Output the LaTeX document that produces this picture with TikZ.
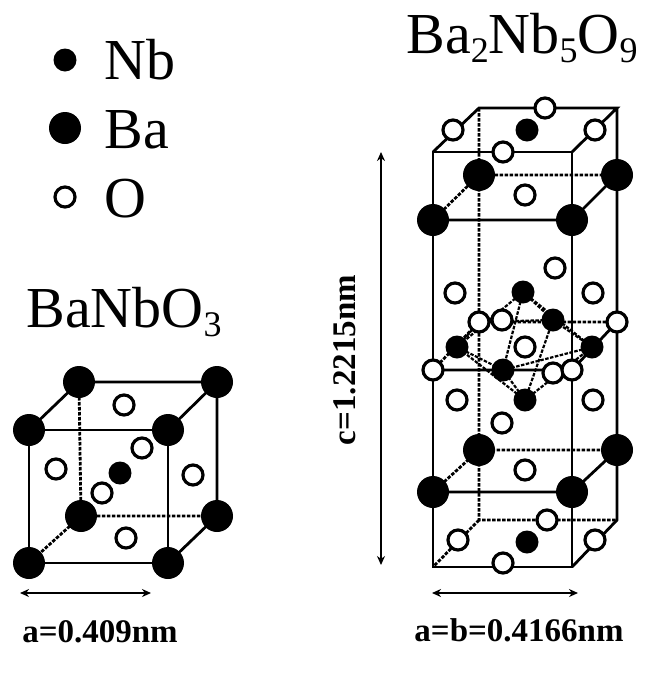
\documentclass[tikz,border=0pt]{standalone}
\usepackage{fontspec}
\usetikzlibrary{arrows.meta}
\setmainfont{Liberation Serif}
\newcommand{\sbs}[1]{\raisebox{-9pt}{\fontsize{36}{36}\selectfont #1}}
\begin{document}
\begin{tikzpicture}[x=1pt,y=-1pt,line width=2.8pt,
 ba/.style={circle,fill=black,inner sep=0pt,minimum size=32pt},
 nb/.style={circle,fill=black,inner sep=0pt,minimum size=23pt},
 ox/.style={circle,draw=black,fill=white,line width=3.2pt,inner sep=0pt,minimum size=20pt},
 dsh/.style={dash pattern=on 3.5pt off 1.5pt},
 big/.style={font=\fontsize{58}{58}\selectfont,inner sep=0pt},
 lab/.style={font=\fontsize{33}{33}\selectfont\bfseries,inner sep=0pt},
 dim/.style={<->,>={Stealth[length=9pt,width=8pt]},line width=2pt}]
\useasboundingbox (0,0) rectangle (658,681);
% legend
\node[nb] (lnb) at (65,60) {};
\node[ba] (lba) at (65,128) {};
\node[ox] (lo) at (65,197) {};
\node[big,anchor=west] (tnb) at (103,60) {Nb};
\node[big,anchor=west] (tba) at (103,130) {Ba};
\node[big,anchor=west] (to) at (103,199) {O};
\node[big,anchor=west] (t1) at (25,312) {BaNbO\sbs{3}};
\node[big,anchor=west] (t2) at (405,38) {Ba\sbs{2}Nb\sbs{5}O\sbs{9}};
% left cube
\coordinate (fa) at (29,430); \coordinate (fb) at (168,430);
\coordinate (fc) at (168,563); \coordinate (fd) at (29,563);
\coordinate (ba1) at (79,382); \coordinate (bb) at (217,382);
\coordinate (bc) at (217,516); \coordinate (bd) at (81,516);
\draw (fa)--(fb)--(fc)--(fd)--cycle;
\draw (fa)--(ba1)--(bb)--(fb) (bb)--(bc)--(fc);
\draw[dsh] (ba1)--(bd)--(bc) (bd)--(fd);
\node[ox] (o1) at (124,405) {};
\node[ox] (o2) at (56,469) {};
\node[ox] (o3) at (193,475) {};
\node[ox] (o4) at (126,538) {};
\node[ox] (o5) at (142,448) {};
\node[ox] (o6) at (102,493) {};
\node[nb] (n1) at (120,473) {};
\foreach \p in {fa,fb,fc,fd,ba1,bb,bc,bd} \node[ba] at (\p) {};
% right box
\coordinate (A) at (433,152); \coordinate (B) at (572,152);
\coordinate (C) at (572,567); \coordinate (D) at (433,567);
\coordinate (E) at (479,108); \coordinate (F) at (617,108);
\coordinate (G) at (617,520); \coordinate (H) at (479,520);
\draw (A)--(B)--(C)--(D)--cycle;
\draw (A)--(E)--(F)--(B) (F)--(G)--(C);
\draw[dsh] (E)--(H)--(G) (H)--(D);
% Ba planes
\coordinate (u1) at (433,220); \coordinate (u2) at (572,220);
\coordinate (u3) at (479,175); \coordinate (u4) at (617,175);
\coordinate (l1) at (433,492); \coordinate (l2) at (572,492);
\coordinate (l3) at (479,450); \coordinate (l4) at (617,450);
\coordinate (m1) at (433,370); \coordinate (m2) at (572,370);
\coordinate (m3) at (479,322); \coordinate (m4) at (617,322);
\draw (u1)--(u2)--(u4) (l1)--(l2)--(l4) (m1)--(m2)--(m4);
\draw[dsh] (u1)--(u3)--(u4) (l1)--(l3)--(l4) (m1)--(m3)--(m4);
% top / bottom faces atoms
\node[nb] at (527,130) {};
\node[nb] at (527,542) {};
\foreach \x/\y in {453/130,545/108,595/130,503/152,525/195,
 458/540,547/520,595/540,503/563,525/470} \node[ox] at (\x,\y) {};
% octahedron
\coordinate (ot) at (523,292); \coordinate (ob) at (525,400);
\coordinate (oL) at (457,347); \coordinate (oK) at (553,320);
\coordinate (oR) at (592,347); \coordinate (oF) at (503,370);
\draw[dsh,line width=2.2pt] (oL)--(oF)--(oR)--(oK)--(m3)--(oL)
 (ot)--(oL) (ot)--(oF) (ot)--(oK) (ot)--(oR)
 (ob)--(oL) (ob)--(oF) (ob)--(oK) (ob)--(oR);
\foreach \x/\y in {555/268,455/293,593/293,502/320,525/347,553/373,
 457/400,593/400,502/423} \node[ox] at (\x,\y) {};
\foreach \p in {m1,m2,m3,m4} \node[ox] at (\p) {};
\foreach \p in {ot,ob,oL,oK,oR,oF} \node[nb] at (\p) {};
\foreach \p in {u1,u2,u3,u4,l1,l2,l3,l4} \node[ba] at (\p) {};
% dimensions
\coordinate (d1) at (20,593); \coordinate (d2) at (151,593);
\coordinate (d3) at (432,593); \coordinate (d4) at (578,593);
\coordinate (d5) at (381,152); \coordinate (d6) at (381,565);
\draw[dim] (d1)--(d2);
\draw[dim] (d3)--(d4);
\draw[dim] (d5)--(d6);
\node[lab] (la) at (100,632) {a=0.409nm};
\node[lab] (lb) at (519,630) {a=b=0.4166nm};
\node[lab,rotate=90] (lc) at (345,360) {c=1.2215nm};
\end{tikzpicture}
\end{document}
